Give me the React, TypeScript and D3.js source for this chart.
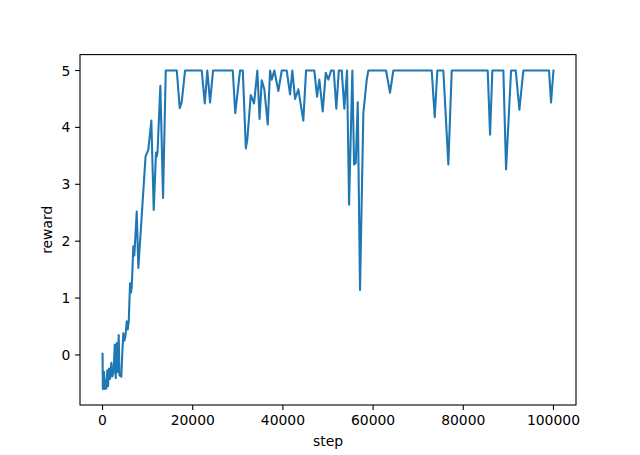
import React from "react";
import * as d3 from "d3";

const steps: number[] = [
  0, 70, 220, 330, 490, 670, 840, 1060, 1220, 1440, 1660, 1950, 2170, 2440, 2710, 2930, 3150, 3330, 3590, 3750,
  4170, 4390, 4610, 4830, 5060, 5370, 5590, 5810, 6100, 6320, 6480, 6830, 7050, 7580, 7940, 9540, 10160, 10820,
  11350, 11860, 12040, 12200, 12820, 13420, 14020, 16460, 17120, 17560, 18300, 22000, 22670, 23240, 23840, 24510,
  28880, 29430, 30490, 31110, 31780, 32110, 32870, 33600, 34330, 34820, 35310, 35880, 36640, 37150, 37520, 38100,
  38990, 39740, 40850, 41580, 42090, 42690, 43420, 44530, 45130, 46970, 47570, 48080, 48830, 49500, 50080, 50670,
  51270, 51850, 52400, 53050, 53620, 54220, 54670, 55400, 55780, 56150, 56600, 57100, 57840, 58590, 58950, 62870,
  63760, 64490, 73000, 73670, 74250, 75580, 76690, 77440, 85420, 85940, 86450, 88890, 89490, 90600, 91640, 92440,
  93320, 99020, 99460, 100000,
];

const rewards: number[] = [
  0.02, -0.6, -0.45, -0.3, -0.6, -0.45, -0.59, -0.27, -0.55, -0.24, -0.42, -0.14, -0.38, -0.3, 0.18, -0.41, 0.21,
  -0.3, 0.35, -0.36, -0.38, 0.05, 0.38, 0.25, 0.32, 0.59, 0.45, 0.59, 1.26, 1.1, 1.2, 1.91, 1.75, 2.52, 1.53, 3.49,
  3.61, 4.12, 2.55, 3.56, 3.49, 3.58, 4.73, 2.76, 5.0, 5.0, 4.34, 4.45, 5.0, 5.0, 4.42, 5.0, 4.44, 5.0, 5.0, 4.25,
  5.0, 5.0, 3.63, 3.79, 4.57, 4.42, 5.0, 4.15, 4.83, 4.67, 4.05, 5.0, 4.84, 5.0, 4.64, 5.0, 5.0, 4.58, 5.0, 4.5,
  4.67, 4.12, 5.0, 5.0, 4.54, 4.84, 4.28, 4.96, 4.84, 5.0, 5.0, 4.33, 5.0, 5.0, 4.33, 5.0, 2.64, 5.0, 3.35, 3.37,
  4.44, 1.14, 4.25, 4.84, 5.0, 5.0, 4.61, 5.0, 5.0, 4.18, 5.0, 5.0, 3.35, 5.0, 5.0, 3.87, 5.0, 5.0, 3.26, 5.0, 5.0,
  4.31, 5.0, 5.0, 4.44, 5.0,
];

const xTicks: number[] = [0, 20000, 40000, 60000, 80000, 100000];
const yTicks: number[] = [0, 1, 2, 3, 4, 5];

const W = 640;
const H = 455;
const L = 80;
const R = 576;
const T = 54.6;
const B = 405;
const FONT = "'DejaVu Sans', sans-serif";

export default function App() {
  const data = steps.map((s, i) => ({ s, r: rewards[i] }));
  const [x0, x1] = d3.extent(steps) as [number, number];
  const [y0, y1] = d3.extent(rewards) as [number, number];
  const xm = (x1 - x0) * 0.05;
  const ym = (y1 - y0) * 0.05;
  const x = d3.scaleLinear().domain([x0 - xm, x1 + xm]).range([L, R]);
  const y = d3.scaleLinear().domain([y0 - ym, y1 + ym]).range([B, T]);
  const line = d3
    .line<{ s: number; r: number }>()
    .x((d) => x(d.s))
    .y((d) => y(d.r));

  return (
    <svg
      width={W}
      height={H}
      style={{ position: "absolute", left: 0, top: 0, background: "#fff" }}
      fontFamily={FONT}
    >
      <rect x={0} y={0} width={W} height={H} fill="#fff" />
      <path d={line(data) || ""} fill="none" stroke="#1f77b4" strokeWidth={2.08} strokeLinejoin="round" strokeLinecap="square" />
      <rect x={L} y={T} width={R - L} height={B - T} fill="none" stroke="#000" strokeWidth={1.1} />
      {xTicks.map((t) => (
        <g key={"x" + t}>
          <line x1={x(t)} x2={x(t)} y1={B} y2={B + 4.9} stroke="#000" strokeWidth={1.1} />
          <text x={x(t)} y={B + 9.7} fontSize={13.9} textAnchor="middle" dominantBaseline="hanging" fill="#000">
            {t}
          </text>
        </g>
      ))}
      {yTicks.map((t) => (
        <g key={"y" + t}>
          <line x1={L - 4.9} x2={L} y1={y(t)} y2={y(t)} stroke="#000" strokeWidth={1.1} />
          <text x={L - 9.7} y={y(t)} fontSize={13.9} textAnchor="end" dominantBaseline="central" fill="#000">
            {t}
          </text>
        </g>
      ))}
      <text x={(L + R) / 2} y={446} fontSize={13.9} textAnchor="middle" fill="#000">
        step
      </text>
      <text
        transform={`translate(52, ${(T + B) / 2}) rotate(-90)`}
        fontSize={13.9}
        textAnchor="middle"
        fill="#000"
      >
        reward
      </text>
    </svg>
  );
}
